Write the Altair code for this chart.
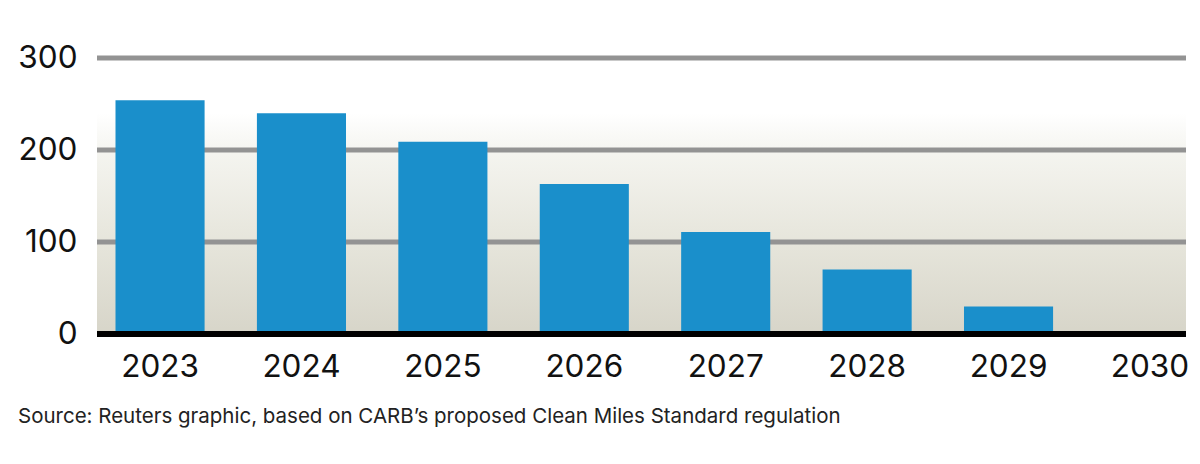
import altair as alt
import pandas as pd

years = ["2023", "2024", "2025", "2026", "2027", "2028", "2029", "2030"]
values = [254, 240, 209, 163, 111, 70, 30, 0]
grid_values = [100, 200, 300]
y_ticks = [0, 100, 200, 300]
source_text = "Source: Reuters graphic, based on CARB\u2019s proposed Clean Miles Standard regulation"

W = 1089
H = 276
FONT = "Inter"

df = pd.DataFrame({"year": years, "value": values})
grid_df = pd.DataFrame({"v": grid_values})

x_enc = alt.X(
    "year:N",
    sort=years,
    scale=alt.Scale(range=[18.5, 1097.5], paddingInner=0.37, paddingOuter=0),
    axis=alt.Axis(
        title=None, domain=False, ticks=False, labelAngle=0,
        labelFont=FONT, labelFontSize=31.5, labelColor="#111111",
        labelPadding=17, labelBaseline="top",
    ),
)
y_scale = alt.Scale(domain=[0, 300])

background = alt.Chart(alt.Data(values=[{}])).mark_rect(
    fill=alt.Gradient(
        gradient="linear", x1=0, x2=0, y1=0, y2=1,
        stops=[
            alt.GradientStop(offset=0, color="#ffffff"),
            alt.GradientStop(offset=0.2, color="#ffffff"),
            alt.GradientStop(offset=0.35, color="#f4f4ef"),
            alt.GradientStop(offset=0.67, color="#e6e5db"),
            alt.GradientStop(offset=1, color="#d7d5c9"),
        ],
    )
).encode(x=alt.value(0), x2=alt.value(W), y=alt.value(0), y2=alt.value(H))

grid = alt.Chart(grid_df).mark_rule(color="#939393", strokeWidth=5).encode(
    y=alt.Y("v:Q", scale=y_scale), x=alt.value(0), x2=alt.value(W)
)

bars = alt.Chart(df).mark_bar(color="#1a8fcb").encode(
    x=x_enc,
    y=alt.Y(
        "value:Q", scale=y_scale,
        axis=alt.Axis(
            title=None, values=y_ticks, grid=False, domain=False, ticks=False,
            labelFont=FONT, labelFontSize=31.5, labelColor="#111111", labelPadding=20,
        ),
    ),
)

baseline = alt.Chart(alt.Data(values=[{"v": 0}])).mark_rule(
    color="#000000", strokeWidth=6
).encode(y=alt.Y("v:Q", scale=y_scale), x=alt.value(0), x2=alt.value(W))

source = alt.Chart(alt.Data(values=[{"t": source_text}])).mark_text(
    align="left", baseline="middle", font=FONT, fontSize=20.5, color="#222222"
).encode(text="t:N", x=alt.value(-79), y=alt.value(H + 83))

chart = alt.layer(background, grid, bars, baseline, source).properties(
    width=W, height=H,
    autosize=alt.AutoSizeParams(type="none"),
    padding={"left": 89, "top": 50, "right": 6, "bottom": 122},
).configure_view(stroke=None)

chart.save("out.html", embed_options={"renderer": "svg", "actions": False})
